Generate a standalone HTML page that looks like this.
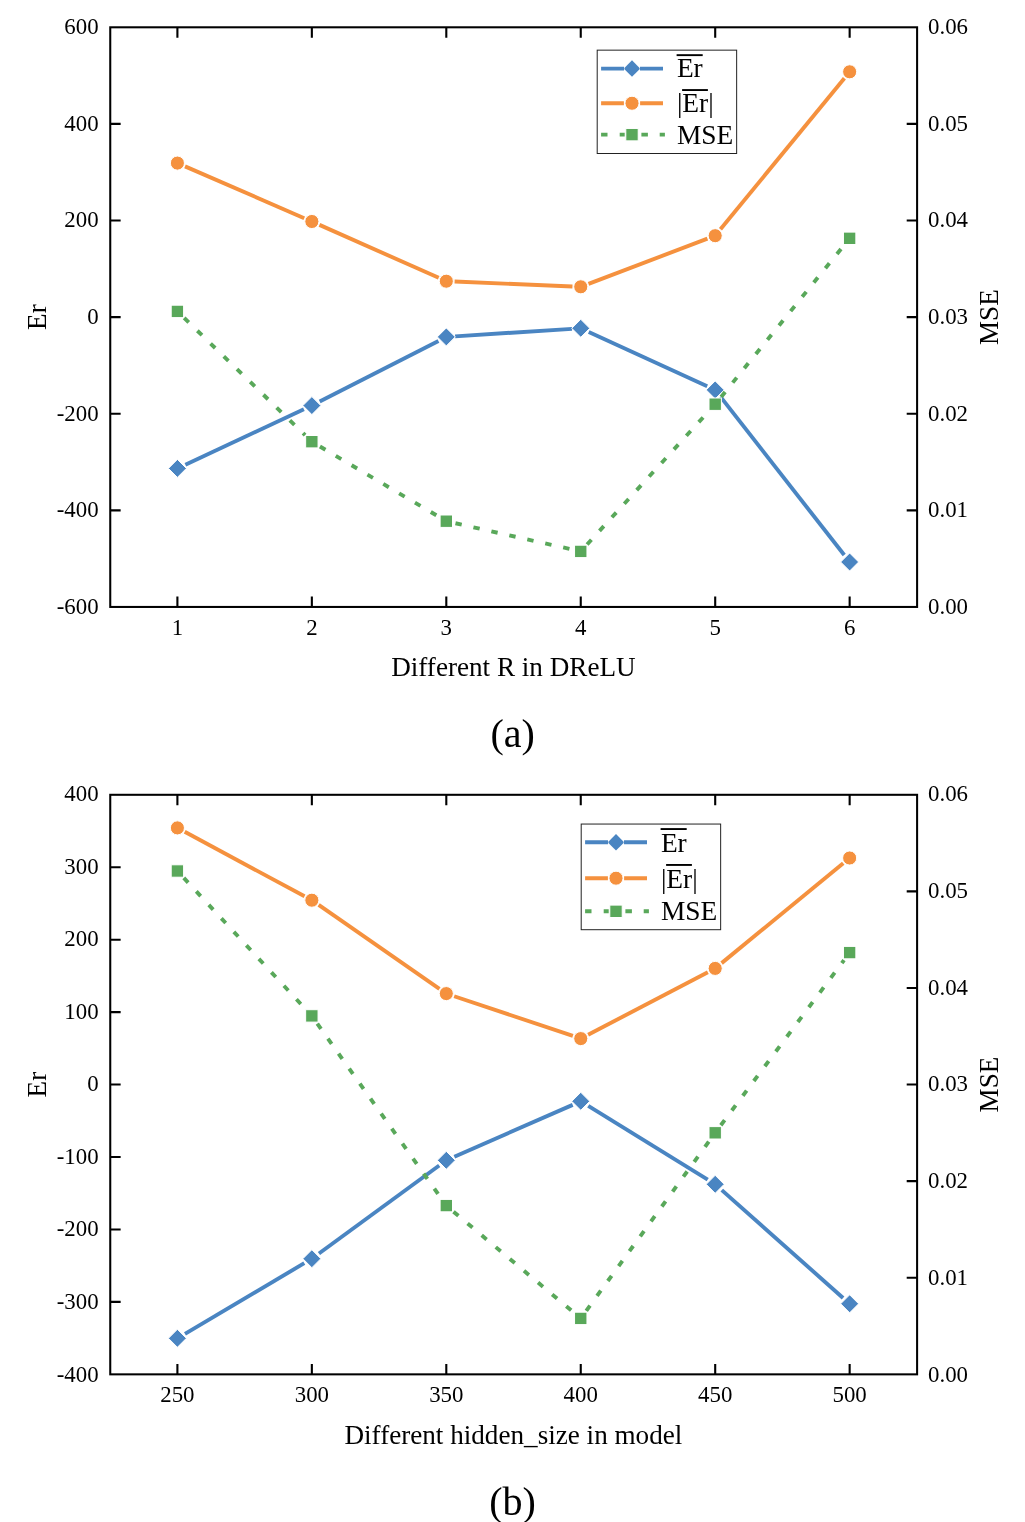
<!DOCTYPE html>
<html><head><meta charset="utf-8"><title>Er and MSE charts</title>
<style>html,body{margin:0;padding:0;background:#fff}svg{display:block}text{white-space:pre}</style>
</head><body>
<svg width="1025" height="1522" viewBox="0 0 1025 1522">
<rect width="1025" height="1522" fill="#fff"/>
<g font-family='"Liberation Serif", "Times New Roman", Times, serif' fill="#000">
<rect x="110.25" y="27.3" width="806.85" height="579.65" fill="none" stroke="#000" stroke-width="2.05"/>
<path d="M177.40 27.3v10.4M177.40 606.95v-10.4M311.85 27.3v10.4M311.85 606.95v-10.4M446.30 27.3v10.4M446.30 606.95v-10.4M580.75 27.3v10.4M580.75 606.95v-10.4M715.20 27.3v10.4M715.20 606.95v-10.4M849.65 27.3v10.4M849.65 606.95v-10.4M110.25 123.91h10.4M110.25 220.52h10.4M110.25 317.13h10.4M110.25 413.73h10.4M110.25 510.34h10.4M917.1 123.91h-10.4M917.1 220.52h-10.4M917.1 317.13h-10.4M917.1 413.73h-10.4M917.1 510.34h-10.4" stroke="#000" stroke-width="2.1" fill="none"/>
<g font-size="22.85px">
<text x="98.6" y="33.80" text-anchor="end">600</text>
<text x="98.6" y="130.53" text-anchor="end">400</text>
<text x="98.6" y="227.25" text-anchor="end">200</text>
<text x="98.6" y="323.98" text-anchor="end">0</text>
<text x="98.6" y="420.70" text-anchor="end">-200</text>
<text x="98.6" y="517.43" text-anchor="end">-400</text>
<text x="98.6" y="614.15" text-anchor="end">-600</text>
<text x="928.0" y="33.80">0.06</text>
<text x="928.0" y="130.53">0.05</text>
<text x="928.0" y="227.25">0.04</text>
<text x="928.0" y="323.98">0.03</text>
<text x="928.0" y="420.70">0.02</text>
<text x="928.0" y="517.43">0.01</text>
<text x="928.0" y="614.15">0.00</text>
<text x="177.40" y="635.15" text-anchor="middle">1</text>
<text x="311.85" y="635.15" text-anchor="middle">2</text>
<text x="446.30" y="635.15" text-anchor="middle">3</text>
<text x="580.75" y="635.15" text-anchor="middle">4</text>
<text x="715.20" y="635.15" text-anchor="middle">5</text>
<text x="849.65" y="635.15" text-anchor="middle">6</text>
</g>
<g font-size="27.15px">
<text x="513.4" y="676.35" text-anchor="middle">Different R in DReLU</text>
<text transform="translate(46.1 317.12) rotate(-90)" text-anchor="middle">Er</text>
<text transform="translate(998.3 317.12) rotate(-90)" text-anchor="middle">MSE</text>
</g>
<text x="512.6" y="747.00" font-size="40px" text-anchor="middle">(a)</text>
<line x1="185.37" y1="464.68" x2="303.88" y2="409.32" stroke="#4a85c2" stroke-width="3.9"/>
<line x1="319.69" y1="401.60" x2="438.46" y2="340.90" stroke="#4a85c2" stroke-width="3.9"/>
<line x1="455.08" y1="336.34" x2="571.97" y2="328.86" stroke="#4a85c2" stroke-width="3.9"/>
<line x1="588.75" y1="331.97" x2="707.20" y2="386.23" stroke="#4a85c2" stroke-width="3.9"/>
<line x1="720.62" y1="396.83" x2="844.23" y2="555.07" stroke="#4a85c2" stroke-width="3.9"/>
<line x1="185.01" y1="166.41" x2="304.24" y2="218.19" stroke="#f5913e" stroke-width="3.9"/>
<line x1="319.44" y1="224.87" x2="438.71" y2="277.83" stroke="#f5913e" stroke-width="3.9"/>
<line x1="454.59" y1="281.55" x2="572.46" y2="286.45" stroke="#f5913e" stroke-width="3.9"/>
<line x1="588.51" y1="283.85" x2="707.44" y2="238.65" stroke="#f5913e" stroke-width="3.9"/>
<line x1="720.46" y1="229.28" x2="844.39" y2="78.22" stroke="#f5913e" stroke-width="3.9"/>
<path d="M168.40 468.40L177.40 459.40L186.40 468.40L177.40 477.40Z" fill="#4a85c2" stroke="#fff" stroke-width="1.0"/>
<path d="M302.85 405.60L311.85 396.60L320.85 405.60L311.85 414.60Z" fill="#4a85c2" stroke="#fff" stroke-width="1.0"/>
<path d="M437.30 336.90L446.30 327.90L455.30 336.90L446.30 345.90Z" fill="#4a85c2" stroke="#fff" stroke-width="1.0"/>
<path d="M571.75 328.30L580.75 319.30L589.75 328.30L580.75 337.30Z" fill="#4a85c2" stroke="#fff" stroke-width="1.0"/>
<path d="M706.20 389.90L715.20 380.90L724.20 389.90L715.20 398.90Z" fill="#4a85c2" stroke="#fff" stroke-width="1.0"/>
<path d="M840.65 562.00L849.65 553.00L858.65 562.00L849.65 571.00Z" fill="#4a85c2" stroke="#fff" stroke-width="1.0"/>
<circle cx="177.40" cy="163.10" r="7.05" fill="#f5913e" stroke="#fff" stroke-width="1.0"/>
<circle cx="311.85" cy="221.50" r="7.05" fill="#f5913e" stroke="#fff" stroke-width="1.0"/>
<circle cx="446.30" cy="281.20" r="7.05" fill="#f5913e" stroke="#fff" stroke-width="1.0"/>
<circle cx="580.75" cy="286.80" r="7.05" fill="#f5913e" stroke="#fff" stroke-width="1.0"/>
<circle cx="715.20" cy="235.70" r="7.05" fill="#f5913e" stroke="#fff" stroke-width="1.0"/>
<circle cx="849.65" cy="71.80" r="7.05" fill="#f5913e" stroke="#fff" stroke-width="1.0"/>
<line x1="184.15" y1="317.94" x2="305.10" y2="435.16" stroke="#59a85a" stroke-width="3.9" stroke-dasharray="6.4 12"/>
<line x1="319.94" y1="446.48" x2="438.21" y2="516.42" stroke="#59a85a" stroke-width="3.9" stroke-dasharray="6.4 12"/>
<line x1="455.47" y1="523.26" x2="571.58" y2="549.34" stroke="#59a85a" stroke-width="3.9" stroke-dasharray="6.4 12"/>
<line x1="587.09" y1="544.46" x2="708.86" y2="411.14" stroke="#59a85a" stroke-width="3.9" stroke-dasharray="6.4 12"/>
<line x1="721.12" y1="396.90" x2="843.73" y2="245.60" stroke="#59a85a" stroke-width="3.9" stroke-dasharray="6.4 12"/>
<rect x="171.20" y="305.20" width="12.4" height="12.4" fill="#59a85a" stroke="#fff" stroke-width="1.0"/>
<rect x="305.65" y="435.50" width="12.4" height="12.4" fill="#59a85a" stroke="#fff" stroke-width="1.0"/>
<rect x="440.10" y="515.00" width="12.4" height="12.4" fill="#59a85a" stroke="#fff" stroke-width="1.0"/>
<rect x="574.55" y="545.20" width="12.4" height="12.4" fill="#59a85a" stroke="#fff" stroke-width="1.0"/>
<rect x="709.00" y="398.00" width="12.4" height="12.4" fill="#59a85a" stroke="#fff" stroke-width="1.0"/>
<rect x="843.45" y="232.10" width="12.4" height="12.4" fill="#59a85a" stroke="#fff" stroke-width="1.0"/>
<g transform="translate(597.2 50.15)">
<rect x="0" y="0" width="139.45" height="103.35" fill="#fff" stroke="#222" stroke-width="1"/>
<path d="M3.9 18.45H26.799999999999997M42.8 18.45H65.8" stroke="#4a85c2" stroke-width="3.9"/>
<path d="M27.199999999999996 17.80L34.8 10.2L42.4 17.80V19.10L34.8 26.7L27.199999999999996 19.10Z" fill="#4a85c2"/>
<path d="M3.9 53.1H26.699999999999996M42.9 53.1H65.8" stroke="#f5913e" stroke-width="3.9"/>
<circle cx="34.80" cy="53.10" r="7.05" fill="#f5913e" stroke="#fff" stroke-width="1.0"/>
<path d="M3.9 84.5h6.4M22.5 84.5h5M44.199999999999996 84.5h6.5M62.5 84.5h5.2" stroke="#59a85a" stroke-width="3.9"/>
<rect x="28.60" y="78.30" width="12.4" height="12.4" fill="#59a85a" stroke="#fff" stroke-width="1.0"/>
<g font-size="27.4px">
<text x="79.7" y="27.3">Er</text>
<rect x="79.4" y="4.05" width="26.1" height="1.9"/>
<text x="79.7" y="62.0">|Er|</text>
<rect x="84.9" y="38.95" width="25.8" height="1.9"/>
<text x="79.7" y="93.7">MSE</text>
</g></g>
</g>
<g font-family='"Liberation Serif", "Times New Roman", Times, serif' fill="#000">
<rect x="110.25" y="794.8" width="806.85" height="579.55" fill="none" stroke="#000" stroke-width="2.05"/>
<path d="M177.40 794.8v10.4M177.40 1374.35v-10.4M311.85 794.8v10.4M311.85 1374.35v-10.4M446.30 794.8v10.4M446.30 1374.35v-10.4M580.75 794.8v10.4M580.75 1374.35v-10.4M715.20 794.8v10.4M715.20 1374.35v-10.4M849.65 794.8v10.4M849.65 1374.35v-10.4M110.25 867.24h10.4M110.25 939.69h10.4M110.25 1012.13h10.4M110.25 1084.57h10.4M110.25 1157.02h10.4M110.25 1229.46h10.4M110.25 1301.91h10.4M917.1 891.39h-10.4M917.1 987.98h-10.4M917.1 1084.57h-10.4M917.1 1181.17h-10.4M917.1 1277.76h-10.4" stroke="#000" stroke-width="2.1" fill="none"/>
<g font-size="22.85px">
<text x="98.6" y="801.30" text-anchor="end">400</text>
<text x="98.6" y="873.83" text-anchor="end">300</text>
<text x="98.6" y="946.36" text-anchor="end">200</text>
<text x="98.6" y="1018.89" text-anchor="end">100</text>
<text x="98.6" y="1091.42" text-anchor="end">0</text>
<text x="98.6" y="1163.96" text-anchor="end">-100</text>
<text x="98.6" y="1236.49" text-anchor="end">-200</text>
<text x="98.6" y="1309.02" text-anchor="end">-300</text>
<text x="98.6" y="1381.55" text-anchor="end">-400</text>
<text x="928.0" y="801.30">0.06</text>
<text x="928.0" y="898.01">0.05</text>
<text x="928.0" y="994.72">0.04</text>
<text x="928.0" y="1091.42">0.03</text>
<text x="928.0" y="1188.13">0.02</text>
<text x="928.0" y="1284.84">0.01</text>
<text x="928.0" y="1381.55">0.00</text>
<text x="177.40" y="1401.95" text-anchor="middle">250</text>
<text x="311.85" y="1401.95" text-anchor="middle">300</text>
<text x="446.30" y="1401.95" text-anchor="middle">350</text>
<text x="580.75" y="1401.95" text-anchor="middle">400</text>
<text x="715.20" y="1401.95" text-anchor="middle">450</text>
<text x="849.65" y="1401.95" text-anchor="middle">500</text>
</g>
<g font-size="27.15px">
<text x="513.4" y="1443.75" text-anchor="middle">Different hidden_size in model</text>
<text transform="translate(46.1 1084.57) rotate(-90)" text-anchor="middle">Er</text>
<text transform="translate(998.3 1084.57) rotate(-90)" text-anchor="middle">MSE</text>
</g>
<text x="512.6" y="1514.80" font-size="40px" text-anchor="middle">(b)</text>
<line x1="184.97" y1="1333.82" x2="304.28" y2="1263.18" stroke="#4a85c2" stroke-width="3.9"/>
<line x1="318.95" y1="1253.50" x2="439.20" y2="1165.50" stroke="#4a85c2" stroke-width="3.9"/>
<line x1="454.36" y1="1156.76" x2="572.69" y2="1104.84" stroke="#4a85c2" stroke-width="3.9"/>
<line x1="588.24" y1="1105.92" x2="707.71" y2="1179.68" stroke="#4a85c2" stroke-width="3.9"/>
<line x1="721.78" y1="1190.15" x2="843.07" y2="1297.95" stroke="#4a85c2" stroke-width="3.9"/>
<line x1="184.71" y1="831.83" x2="304.54" y2="896.27" stroke="#f5913e" stroke-width="3.9"/>
<line x1="318.67" y1="904.94" x2="439.48" y2="988.86" stroke="#f5913e" stroke-width="3.9"/>
<line x1="454.17" y1="996.23" x2="572.88" y2="1035.97" stroke="#f5913e" stroke-width="3.9"/>
<line x1="588.11" y1="1034.76" x2="707.84" y2="972.24" stroke="#f5913e" stroke-width="3.9"/>
<line x1="721.61" y1="963.13" x2="843.24" y2="863.27" stroke="#f5913e" stroke-width="3.9"/>
<path d="M168.40 1338.30L177.40 1329.30L186.40 1338.30L177.40 1347.30Z" fill="#4a85c2" stroke="#fff" stroke-width="1.0"/>
<path d="M302.85 1258.70L311.85 1249.70L320.85 1258.70L311.85 1267.70Z" fill="#4a85c2" stroke="#fff" stroke-width="1.0"/>
<path d="M437.30 1160.30L446.30 1151.30L455.30 1160.30L446.30 1169.30Z" fill="#4a85c2" stroke="#fff" stroke-width="1.0"/>
<path d="M571.75 1101.30L580.75 1092.30L589.75 1101.30L580.75 1110.30Z" fill="#4a85c2" stroke="#fff" stroke-width="1.0"/>
<path d="M706.20 1184.30L715.20 1175.30L724.20 1184.30L715.20 1193.30Z" fill="#4a85c2" stroke="#fff" stroke-width="1.0"/>
<path d="M840.65 1303.80L849.65 1294.80L858.65 1303.80L849.65 1312.80Z" fill="#4a85c2" stroke="#fff" stroke-width="1.0"/>
<circle cx="177.40" cy="827.90" r="7.05" fill="#f5913e" stroke="#fff" stroke-width="1.0"/>
<circle cx="311.85" cy="900.20" r="7.05" fill="#f5913e" stroke="#fff" stroke-width="1.0"/>
<circle cx="446.30" cy="993.60" r="7.05" fill="#f5913e" stroke="#fff" stroke-width="1.0"/>
<circle cx="580.75" cy="1038.60" r="7.05" fill="#f5913e" stroke="#fff" stroke-width="1.0"/>
<circle cx="715.20" cy="968.40" r="7.05" fill="#f5913e" stroke="#fff" stroke-width="1.0"/>
<circle cx="849.65" cy="858.00" r="7.05" fill="#f5913e" stroke="#fff" stroke-width="1.0"/>
<line x1="183.79" y1="877.89" x2="305.46" y2="1009.01" stroke="#59a85a" stroke-width="3.9" stroke-dasharray="6.4 12"/>
<line x1="317.29" y1="1023.57" x2="440.86" y2="1197.93" stroke="#59a85a" stroke-width="3.9" stroke-dasharray="6.4 12"/>
<line x1="453.50" y1="1211.64" x2="573.55" y2="1312.36" stroke="#59a85a" stroke-width="3.9" stroke-dasharray="6.4 12"/>
<line x1="586.26" y1="1310.79" x2="709.69" y2="1140.41" stroke="#59a85a" stroke-width="3.9" stroke-dasharray="6.4 12"/>
<line x1="720.82" y1="1125.27" x2="844.03" y2="960.13" stroke="#59a85a" stroke-width="3.9" stroke-dasharray="6.4 12"/>
<rect x="171.20" y="864.80" width="12.4" height="12.4" fill="#59a85a" stroke="#fff" stroke-width="1.0"/>
<rect x="305.65" y="1009.70" width="12.4" height="12.4" fill="#59a85a" stroke="#fff" stroke-width="1.0"/>
<rect x="440.10" y="1199.40" width="12.4" height="12.4" fill="#59a85a" stroke="#fff" stroke-width="1.0"/>
<rect x="574.55" y="1312.20" width="12.4" height="12.4" fill="#59a85a" stroke="#fff" stroke-width="1.0"/>
<rect x="709.00" y="1126.60" width="12.4" height="12.4" fill="#59a85a" stroke="#fff" stroke-width="1.0"/>
<rect x="843.45" y="946.40" width="12.4" height="12.4" fill="#59a85a" stroke="#fff" stroke-width="1.0"/>
<g transform="translate(581.2 824.05)">
<rect x="0" y="0" width="139.45" height="105.65" fill="#fff" stroke="#222" stroke-width="1"/>
<path d="M3.9 18.25H26.799999999999997M42.8 18.25H65.8" stroke="#4a85c2" stroke-width="3.9"/>
<path d="M27.199999999999996 17.60L34.8 10.0L42.4 17.60V18.90L34.8 26.5L27.199999999999996 18.90Z" fill="#4a85c2"/>
<path d="M3.9 54.15H26.699999999999996M42.9 54.15H65.8" stroke="#f5913e" stroke-width="3.9"/>
<circle cx="34.80" cy="54.15" r="7.05" fill="#f5913e" stroke="#fff" stroke-width="1.0"/>
<path d="M3.9 87.25h6.4M22.5 87.25h5M44.199999999999996 87.25h6.5M62.5 87.25h5.2" stroke="#59a85a" stroke-width="3.9"/>
<rect x="28.60" y="81.05" width="12.4" height="12.4" fill="#59a85a" stroke="#fff" stroke-width="1.0"/>
<g font-size="27.4px">
<text x="79.7" y="27.65">Er</text>
<rect x="79.4" y="4.05" width="26.1" height="1.9"/>
<text x="79.7" y="63.55">|Er|</text>
<rect x="84.9" y="39.95" width="25.8" height="1.9"/>
<text x="79.7" y="95.85">MSE</text>
</g></g>
</g>
</svg>
</body></html>
